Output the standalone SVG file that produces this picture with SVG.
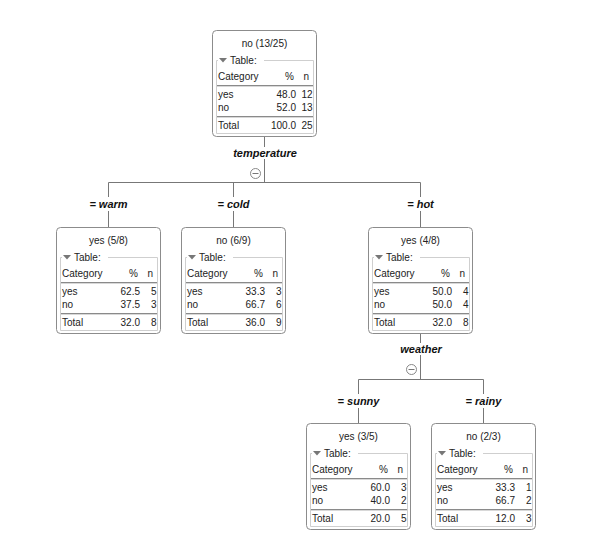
<svg xmlns="http://www.w3.org/2000/svg" width="589" height="536" viewBox="0 0 589 536">
<style>
text{font-family:"Liberation Sans",Arial,sans-serif;font-size:10px;fill:#222}
.lbl{font-size:11px;font-weight:bold;font-style:italic;text-anchor:middle;fill:#111}
.title{text-anchor:middle}
.r{text-anchor:end}
.box{fill:#fff;stroke:#8c8c8c;stroke-width:1}
.frame{fill:none;stroke:#cfcfcf;stroke-width:1}
.hl{fill:#e2e2e2}
.sep1{stroke:#8a8a8a;stroke-width:1}
.sep2{stroke:#d8d8d8;stroke-width:1}
.tri{fill:#777}
.con{fill:none;stroke:#777;stroke-width:1}
.col{fill:#fff;stroke:#888;stroke-width:1}
</style>
<defs>
<g id="frame">
<rect class="box" x="0.5" y="0.5" width="104" height="106" rx="4"/>
<path class="frame" d="M6 30.5 H4.5 V103.5 H101.5 V30.5 H52"/>
<path class="tri" d="M7 28 L15 28 L11 32.5 Z"/>
<text x="18" y="33.5">Table:</text>
<text x="6" y="50">Category</text>
<text class="r" x="82" y="50">%</text>
<text class="r" x="97" y="50">n</text>
<line class="sep1" x1="5" y1="55.5" x2="101" y2="55.5"/>
<line class="sep2" x1="5" y1="56.5" x2="101" y2="56.5"/>
<line class="sep1" x1="5" y1="86.5" x2="101" y2="86.5"/>
<line class="sep2" x1="5" y1="87.5" x2="101" y2="87.5"/>
<text x="6" y="99">Total</text>
</g>
</defs>
<g id="connectors">
<path class="con" d="M264.5 137 V147 M264.5 159 V182.5 M108.5 182.5 H420.5 M108.5 182.5 V197 M108.5 211 V227 M233.5 182.5 V197 M233.5 211 V227 M420.5 182.5 V197 M420.5 211 V227"/>
<path class="con" d="M420.5 334 V343 M420.5 355 V379.5 M358.5 379.5 H483.5 M358.5 379.5 V394 M358.5 408 V423 M483.5 379.5 V394 M483.5 408 V423"/>
<circle class="col" cx="255.5" cy="173.5" r="5"/>
<line class="con" x1="252.5" y1="173.5" x2="258.5" y2="173.5"/>
<circle class="col" cx="411.5" cy="369.5" r="5"/>
<line class="con" x1="408.5" y1="369.5" x2="414.5" y2="369.5"/>
<text class="lbl" x="265" y="157">temperature</text>
<text class="lbl" x="421" y="353">weather</text>
<text class="lbl" x="108.5" y="208">= warm</text>
<text class="lbl" x="233.5" y="208">= cold</text>
<text class="lbl" x="420.5" y="208">= hot</text>
<text class="lbl" x="358.5" y="405">= sunny</text>
<text class="lbl" x="483.5" y="405">= rainy</text>
</g>
<g id="node-root" transform="translate(212,30)">
<rect class="hl" x="5" y="71" width="96" height="11"/>
<use href="#frame"/>
<text class="title" x="52.5" y="17">no (13/25)</text>
<text x="6" y="68">yes</text><text class="r" x="84" y="68">48.0</text><text class="r" x="100.5" y="68">12</text>
<text x="6" y="80.5">no</text><text class="r" x="84" y="80.5">52.0</text><text class="r" x="100.5" y="80.5">13</text>
<text class="r" x="84" y="99">100.0</text><text class="r" x="100.5" y="99">25</text>
</g>
<g id="node-warm" transform="translate(56,227)">
<rect class="hl" x="5" y="58" width="96" height="12"/>
<use href="#frame"/>
<text class="title" x="52.5" y="17">yes (5/8)</text>
<text x="6" y="68">yes</text><text class="r" x="84" y="68">62.5</text><text class="r" x="100.5" y="68">5</text>
<text x="6" y="80.5">no</text><text class="r" x="84" y="80.5">37.5</text><text class="r" x="100.5" y="80.5">3</text>
<text class="r" x="84" y="99">32.0</text><text class="r" x="100.5" y="99">8</text>
</g>
<g id="node-cold" transform="translate(181,227)">
<rect class="hl" x="5" y="71" width="96" height="11"/>
<use href="#frame"/>
<text class="title" x="52.5" y="17">no (6/9)</text>
<text x="6" y="68">yes</text><text class="r" x="84" y="68">33.3</text><text class="r" x="100.5" y="68">3</text>
<text x="6" y="80.5">no</text><text class="r" x="84" y="80.5">66.7</text><text class="r" x="100.5" y="80.5">6</text>
<text class="r" x="84" y="99">36.0</text><text class="r" x="100.5" y="99">9</text>
</g>
<g id="node-hot" transform="translate(368,227)">
<rect class="hl" x="5" y="58" width="96" height="12"/>
<use href="#frame"/>
<text class="title" x="52.5" y="17">yes (4/8)</text>
<text x="6" y="68">yes</text><text class="r" x="84" y="68">50.0</text><text class="r" x="100.5" y="68">4</text>
<text x="6" y="80.5">no</text><text class="r" x="84" y="80.5">50.0</text><text class="r" x="100.5" y="80.5">4</text>
<text class="r" x="84" y="99">32.0</text><text class="r" x="100.5" y="99">8</text>
</g>
<g id="node-sunny" transform="translate(306,423)">
<rect class="hl" x="5" y="58" width="96" height="12"/>
<use href="#frame"/>
<text class="title" x="52.5" y="17">yes (3/5)</text>
<text x="6" y="68">yes</text><text class="r" x="84" y="68">60.0</text><text class="r" x="100.5" y="68">3</text>
<text x="6" y="80.5">no</text><text class="r" x="84" y="80.5">40.0</text><text class="r" x="100.5" y="80.5">2</text>
<text class="r" x="84" y="99">20.0</text><text class="r" x="100.5" y="99">5</text>
</g>
<g id="node-rainy" transform="translate(431,423)">
<rect class="hl" x="5" y="71" width="96" height="11"/>
<use href="#frame"/>
<text class="title" x="52.5" y="17">no (2/3)</text>
<text x="6" y="68">yes</text><text class="r" x="84" y="68">33.3</text><text class="r" x="100.5" y="68">1</text>
<text x="6" y="80.5">no</text><text class="r" x="84" y="80.5">66.7</text><text class="r" x="100.5" y="80.5">2</text>
<text class="r" x="84" y="99">12.0</text><text class="r" x="100.5" y="99">3</text>
</g>
</svg>
